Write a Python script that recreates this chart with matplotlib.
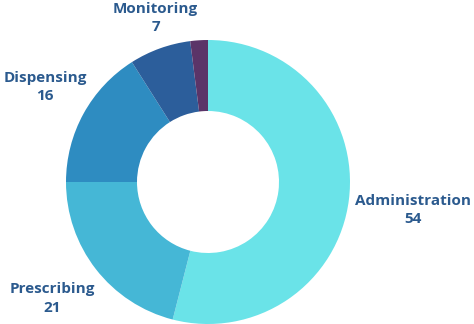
import numpy as np
import matplotlib.pyplot as plt

labels = ['Administration', 'Prescribing', 'Dispensing', 'Monitoring', '']
values = [54, 21, 16, 7, 2]
colors = ['#6ae3e8', '#45b7d6', '#2e8cc1', '#2c5e9b', '#5b3468']
label_dist = [1.46, 1.37, 1.33, 1.21, 0]
label_nudge = [-0.5, -1.0, -1.5, -2.0, 0]  # degrees

fig = plt.figure(figsize=(4.74, 3.24), dpi=100)
ax = fig.add_axes([66 / 474, 0, 284 / 474, 284 / 324])
wedges, _ = ax.pie(values, colors=colors, startangle=90, counterclock=False,
                   radius=1, wedgeprops=dict(width=0.5, linewidth=0))
ax.set_xlim(-1, 1)
ax.set_ylim(-1, 1)
ax.set_aspect('equal')

for w, lab, val, d, nd in zip(wedges, labels, values, label_dist, label_nudge):
    if not lab:
        continue
    ang = np.deg2rad((w.theta1 + w.theta2) / 2 + nd)
    ax.text(d * np.cos(ang), d * np.sin(ang), f'{lab}\n{val}',
            ha='center', va='center', fontsize=11, fontweight='bold',
            family='Open Sans', color='#2b5a8e', linespacing=1.38,
            clip_on=False)

fig.savefig('out.png', dpi=100)
